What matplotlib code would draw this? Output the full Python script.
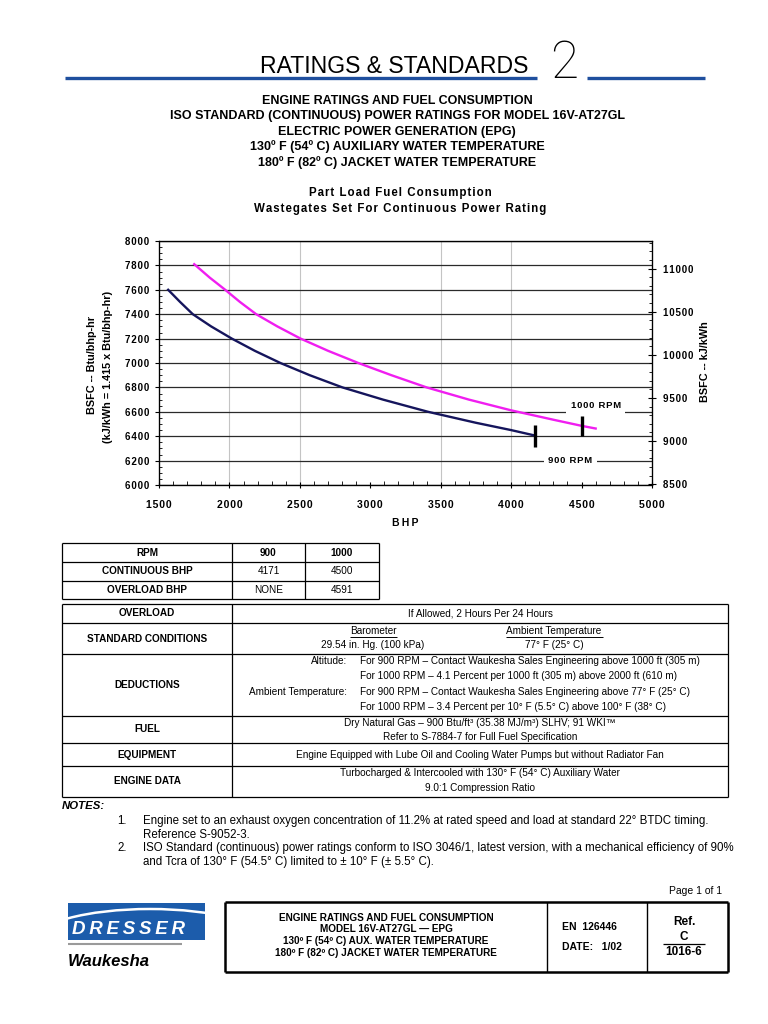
"""Waukesha 16V-AT27GL EPG rating sheet: part load fuel consumption."""

import matplotlib
matplotlib.use("Agg")
import matplotlib.pyplot as plt
from matplotlib.ticker import MultipleLocator, FuncFormatter
from matplotlib.patches import Rectangle, Ellipse

# ---- chart data ----
bhp_900 = [1565, 1650, 1740, 1870, 2017, 2180, 2362, 2570, 2802, 3090, 3410, 3750, 4000, 4171]
bsfc_900 = [7600, 7500, 7400, 7300, 7200, 7100, 7000, 6900, 6800, 6700, 6600, 6510, 6450, 6405]
bhp_1000 = [1750, 1860, 1970, 2075, 2190, 2340, 2505, 2700, 2915, 3150, 3400, 3700, 4000, 4300, 4500, 4600]
bsfc_1000 = [7810, 7700, 7600, 7500, 7400, 7300, 7200, 7100, 7000, 6900, 6800, 6700, 6612, 6535, 6485, 6463]
grid_bhp = [2000, 2500, 3500, 4000]
kj_factor = 1.415

# ---- table data ----
rpm = ["900", "1000"]
continuous_bhp = [4171, 4500]
overload_bhp = ["NONE", "4591"]
table1_labels = ["RPM", "CONTINUOUS BHP", "OVERLOAD BHP"]
table2_labels = ["OVERLOAD", "STANDARD CONDITIONS", "DEDUCTIONS", "FUEL", "EQUIPMENT", "ENGINE DATA"]
table2_rows = [604, 623, 654, 716, 743, 766, 797]

W, H = 768, 1024
FONT = ["Liberation Sans", "DejaVu Sans"]
BLUE = "#1f4f9e"
TBL = 7.2  # table text size


def spaced(s, sp="\u200a"):
    return sp.join(s)


fig = plt.figure(figsize=(W / 100, H / 100), dpi=100)
fig.patch.set_facecolor("white")

# page overlay in pixel coordinates
ax0 = fig.add_axes([0, 0, 1, 1])
ax0.set_xlim(0, W)
ax0.set_ylim(H, 0)
ax0.axis("off")


def txt(x, y, s, size=8, weight="normal", ha="center", va="center", family=FONT, **kw):
    ax0.text(x, y, s, fontsize=size, fontweight=weight, ha=ha, va=va, family=family, **kw)


def hline(x1, x2, y, lw=0.9, color="black"):
    ax0.plot([x1, x2], [y, y], color=color, lw=lw, solid_capstyle="butt")


def vline(x, y1, y2, lw=0.9, color="black"):
    ax0.plot([x, x], [y1, y2], color=color, lw=lw, solid_capstyle="butt")


# header
txt(260, 73, "RATINGS & STANDARDS", size=16.6, ha="left", va="baseline")
txt(550, 78, "2", size=37, ha="left", va="baseline", family=["Roboto", "Liberation Sans"], weight="light")
hline(65, 537, 78, lw=2.4, color=BLUE)
hline(587, 705, 78, lw=2.4, color=BLUE)

heads = ["ENGINE RATINGS AND FUEL CONSUMPTION",
         "ISO STANDARD (CONTINUOUS) POWER RATINGS FOR MODEL 16V-AT27GL",
         "ELECTRIC POWER GENERATION (EPG)",
         "130\u00ba F (54\u00ba C) AUXILIARY WATER TEMPERATURE",
         "180\u00ba F (82\u00ba C) JACKET WATER TEMPERATURE"]
for i, h in enumerate(heads):
    txt(397, 101 + i * 15.3, h, size=9, weight="bold")
txt(400, 193, spaced("Part Load Fuel Consumption"), size=8.3, weight="bold")
txt(400, 209, spaced("Wastegates Set For Continuous Power Rating"), size=8.3, weight="bold")

# ---- chart ----
ax = fig.add_axes([159 / W, 1 - 485 / H, 493 / W, 244 / H])
ax.set_xlim(1500, 5000)
ax.set_ylim(6000, 8000)
ax.set_axisbelow(True)
ax.grid(axis="y", which="major", color="#2a2a2a", lw=0.9)
for b in grid_bhp:
    ax.axvline(b, color="#c4c4c4", lw=0.8, zorder=0.5)

ax.plot(bhp_1000, bsfc_1000, color="#f01ef0", lw=1.7, zorder=3)
ax.plot(bhp_900, bsfc_900, color="#15155c", lw=1.7, zorder=3)
ax.plot(continuous_bhp[0], bsfc_900[bhp_900.index(continuous_bhp[0])], marker="|",
        ms=16, mew=2.4, color="black", zorder=4)
ax.plot(continuous_bhp[1], bsfc_1000[bhp_1000.index(continuous_bhp[1])], marker="|",
        ms=15, mew=2.4, color="black", zorder=4)

box = dict(facecolor="white", edgecolor="none", pad=3)
ax.text(4600, 6655, spaced("1000 RPM"), fontsize=6.8, fontweight="bold", family=FONT,
        ha="center", va="center", bbox=box, zorder=5)
ax.text(4420, 6200, spaced("900 RPM"), fontsize=6.8, fontweight="bold", family=FONT,
        ha="center", va="center", bbox=box, zorder=5)

fmt = FuncFormatter(lambda v, p: spaced(f"{v:.0f}"))
ax.xaxis.set_major_locator(MultipleLocator(500))
ax.xaxis.set_minor_locator(MultipleLocator(100))
ax.yaxis.set_major_locator(MultipleLocator(200))
ax.yaxis.set_minor_locator(MultipleLocator(50))
ax.xaxis.set_major_formatter(fmt)
ax.yaxis.set_major_formatter(fmt)
ax.tick_params(axis="y", which="major", direction="out", length=3, width=0.8, pad=4, labelsize=7)
ax.tick_params(axis="y", which="minor", direction="in", length=2, width=0.6)
ax.tick_params(axis="x", which="major", direction="inout", length=5, width=0.8, pad=8, labelsize=7.5)
ax.tick_params(axis="x", which="minor", direction="in", length=3, width=0.6)
for s in ax.spines.values():
    s.set_linewidth(0.9)

ax2 = ax.twinx()
ax2.set_ylim(6000 * kj_factor, 8000 * kj_factor)
ax2.yaxis.set_major_locator(MultipleLocator(500))
ax2.yaxis.set_minor_locator(MultipleLocator(100))
ax2.yaxis.set_major_formatter(fmt)
ax2.tick_params(axis="y", which="major", direction="inout", length=6, width=0.8, pad=5, labelsize=7)
ax2.tick_params(axis="y", which="minor", direction="in", length=2.5, width=0.6)
for a in (ax, ax2):
    for lab in a.get_xticklabels() + a.get_yticklabels():
        lab.set_fontweight("bold")
        lab.set_family(FONT)

txt(92, 365, "BSFC -- Btu/bhp-hr", size=7.8, weight="bold", rotation=90)
txt(108, 367, "(kJ/kWh = 1.415 x Btu/bhp-hr)", size=7.8, weight="bold", rotation=90)
txt(705, 362, "BSFC -- kJ/kWh", size=7.8, weight="bold", rotation=90)
txt(405, 523, spaced("BHP", "\u2009"), size=7.5, weight="bold")

# ---- table 1 ----
t1_rows = [543, 562, 581, 599]
t1_cols = [62, 232, 305, 379]
for y in t1_rows:
    hline(62, 379, y)
for x in t1_cols:
    vline(x, 543, 599)
for i, lab in enumerate(table1_labels):
    yc = (t1_rows[i] + t1_rows[i + 1]) / 2
    txt(147, yc, lab, size=TBL, weight="bold")
for j in range(2):
    xc = (t1_cols[j + 1] + t1_cols[j + 2]) / 2
    txt(xc, (t1_rows[0] + t1_rows[1]) / 2, rpm[j], size=TBL, weight="bold")
    txt(xc, (t1_rows[1] + t1_rows[2]) / 2, str(continuous_bhp[j]), size=TBL)
    txt(xc, (t1_rows[2] + t1_rows[3]) / 2, overload_bhp[j], size=TBL)

# ---- table 2 ----
for y in table2_rows:
    hline(62, 728, y)
for x in (62, 232, 728):
    vline(x, 604, 797)
for i, lab in enumerate(table2_labels):
    txt(147, (table2_rows[i] + table2_rows[i + 1]) / 2, lab, size=TBL, weight="bold")

c2 = 480
txt(c2, 613, "If Allowed, 2 Hours Per 24 Hours", size=TBL)
txt(373, 631, "Barometer", size=TBL)
hline(350, 397, 637, lw=0.7)
txt(373, 645, "29.54 in. Hg. (100 kPa)", size=TBL)
txt(554, 631, "Ambient Temperature", size=TBL)
hline(506, 603, 637, lw=0.7)
txt(554, 645, "77\u00b0 F (25\u00b0 C)", size=TBL)

txt(347, 661, "Altitude:", size=TBL, ha="right")
txt(360, 661, "For 900 RPM \u2013 Contact Waukesha Sales Engineering above 1000 ft (305 m)", size=TBL, ha="left")
txt(360, 676, "For 1000 RPM \u2013 4.1 Percent per 1000 ft (305 m) above 2000 ft (610 m)", size=TBL, ha="left")
txt(347, 692, "Ambient Temperature:", size=TBL, ha="right")
txt(360, 692, "For 900 RPM \u2013 Contact Waukesha Sales Engineering above 77\u00b0 F (25\u00b0 C)", size=TBL, ha="left")
txt(360, 707, "For 1000 RPM \u2013 3.4 Percent per 10\u00b0 F (5.5\u00b0 C) above 100\u00b0 F (38\u00b0 C)", size=TBL, ha="left")

txt(c2, 723, "Dry Natural Gas \u2013 900 Btu/ft\u00b3 (35.38 MJ/m\u00b3) SLHV; 91 WKI\u2122", size=TBL)
txt(c2, 737, "Refer to S-7884-7 for Full Fuel Specification", size=TBL)
txt(c2, 755, "Engine Equipped with Lube Oil and Cooling Water Pumps but without Radiator Fan", size=TBL)
txt(c2, 773, "Turbocharged & Intercooled with 130\u00b0 F (54\u00b0 C) Auxiliary Water", size=TBL)
txt(c2, 788, "9.0:1 Compression Ratio", size=TBL)

# ---- notes ----
txt(62, 806, "NOTES:", size=8.2, weight="bold", ha="left", style="italic")
notes = [("1.", ["Engine set to an exhaust oxygen concentration of 11.2% at rated speed and load at standard 22\u00b0 BTDC timing.",
                 "Reference S-9052-3."]),
         ("2.", ["ISO Standard (continuous) power ratings conform to ISO 3046/1, latest version, with a mechanical efficiency of 90%",
                 "and Tcra of 130\u00b0 F (54.5\u00b0 C) limited to \u00b1 10\u00b0 F (\u00b1 5.5\u00b0 C)."])]
y = 821
for num, lines in notes:
    txt(117, y, num, size=8.3, ha="left")
    for ln in lines:
        txt(143, y, ln, size=8.3, ha="left")
        y += 13.6

# ---- footer ----
txt(722, 891, "Page 1 of 1", size=7.5, ha="right")
hline(225, 728, 902, lw=1.8)
hline(225, 728, 972, lw=1.8)
vline(225, 902, 972, lw=1.8)
vline(728, 902, 972, lw=1.8)
vline(547, 902, 972, lw=1.0)
vline(647, 902, 972, lw=1.0)
foot = ["ENGINE RATINGS AND FUEL CONSUMPTION", "MODEL 16V-AT27GL \u2014 EPG",
        "130\u00ba F (54\u00ba C) AUX. WATER TEMPERATURE", "180\u00ba F (82\u00ba C) JACKET WATER TEMPERATURE"]
for i, f in enumerate(foot):
    txt(386, 918 + i * 11.5, f, size=7.2, weight="bold")
txt(562, 927, "EN  126446", size=7.5, weight="bold", ha="left")
txt(562, 947, "DATE:   1/02", size=7.5, weight="bold", ha="left")
txt(684, 922, "Ref.", size=8.5, weight="bold")
txt(684, 937, "C", size=8.5, weight="bold")
hline(663, 705, 944, lw=0.9)
txt(684, 952, "1016-6", size=8.5, weight="bold")

# logo
logo = Rectangle((68, 903), 137, 37, facecolor="#1c5cab", edgecolor="none")
ax0.add_patch(logo)
arc = Ellipse((150, 941), 232, 64, facecolor="none", edgecolor="white", lw=1.8)
ax0.add_patch(arc)
arc.set_clip_path(logo)
hline(68, 182, 944, lw=1.5, color="#9a9a9a")
txt(128, 929, spaced("DRESSER", "\u2009"), size=13.5, weight="bold", style="italic", color="white")
txt(68, 961, "Waukesha", size=12, weight="bold", style="italic", ha="left")

fig.savefig("out.png", dpi=100)
